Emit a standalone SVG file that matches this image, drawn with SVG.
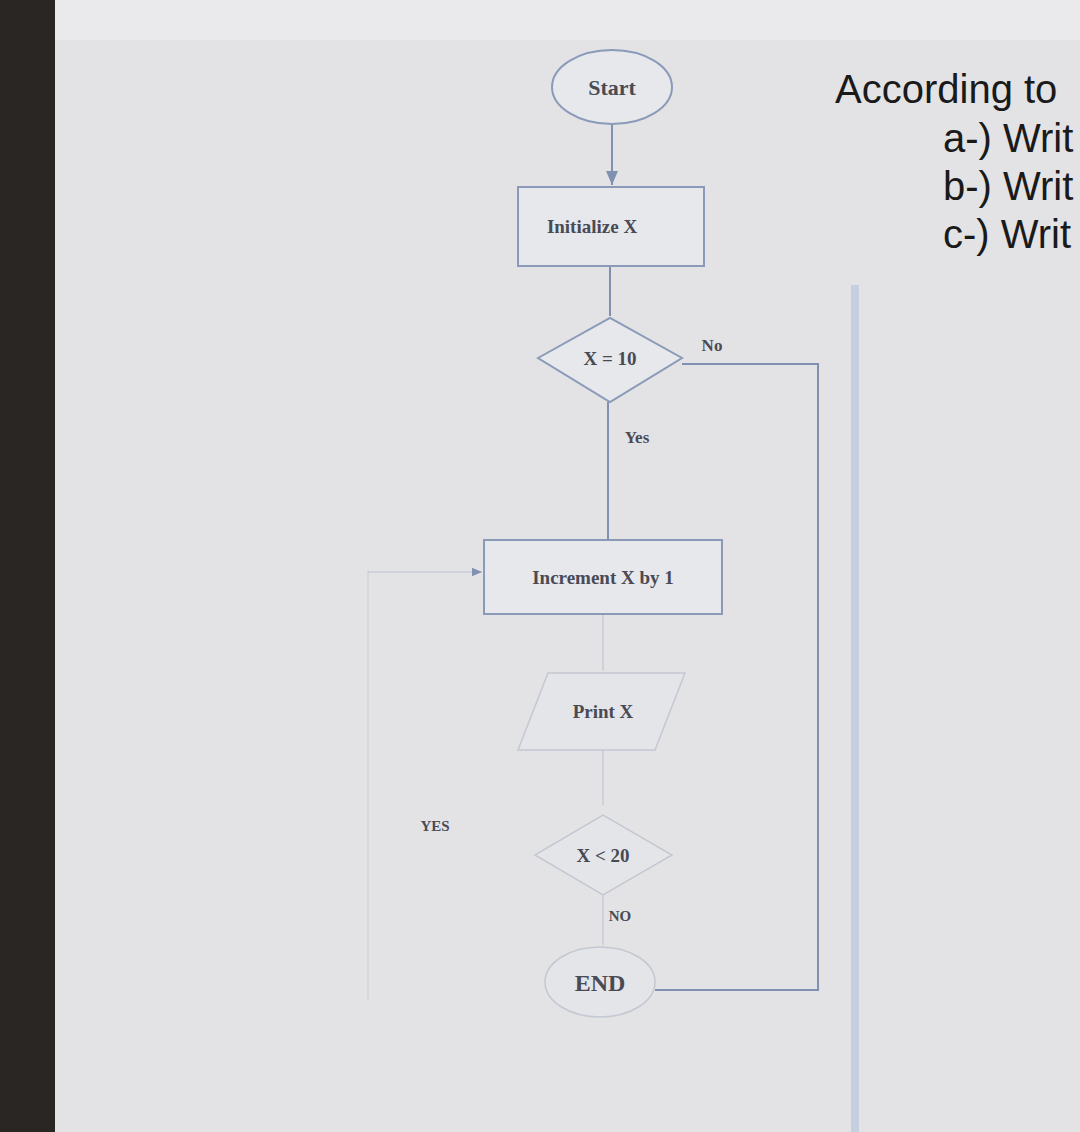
<svg xmlns="http://www.w3.org/2000/svg" width="1080" height="1132" viewBox="0 0 1080 1132">
<style>
.n{fill:#e6e8ec;stroke:#8a9ab8;stroke-width:2}
.f{fill:#e4e5e8;stroke:#c4c8d2;stroke-width:1.5}
.t{font-family:"Liberation Serif",serif;font-weight:bold;fill:#4a4a55;text-anchor:middle}
.c{fill:none;stroke:#8090b0;stroke-width:2}
.cf{fill:none;stroke:#c8ccd6;stroke-width:1.5}
.q{font-family:"Liberation Sans",Arial,sans-serif;font-size:40px;fill:#1a1a1a}
</style>
<defs><marker id="a" markerWidth="8" markerHeight="8" refX="7" refY="4" orient="auto"><path d="M0,1 L7,4 L0,7" fill="#8090b0"/></marker></defs>
<rect width="1080" height="1132" fill="#e3e3e5"/>
<rect x="0" y="0" width="55" height="1132" fill="#2a2624"/>
<rect x="55" y="0" width="1025" height="40" fill="#eaeaec"/>
<line x1="855" y1="285" x2="855" y2="1132" stroke="#c6cfe0" stroke-width="8"/>
<line x1="368" y1="570" x2="368" y2="1000" stroke="#d2d5dc" stroke-width="1.5"/>
<g id="connectors">
<path class="c" d="M612,124 V185" marker-end="url(#a)"/>
<path class="c" d="M610,266 V316"/>
<path class="c" d="M682,364 H818 V990 H655"/>
<path class="c" d="M608,402 V540"/>
<path class="cf" d="M368,572 H482" marker-end="url(#a)"/>
<path class="cf" d="M603,614 V671"/>
<path class="cf" d="M603,750 V805"/>
<path class="cf" d="M603,895 V945"/>
</g>
<g id="start"><ellipse class="n" cx="612" cy="87" rx="60" ry="37"/><text class="t" x="612" y="95" font-size="22">Start</text></g>
<g id="init"><rect class="n" x="518" y="187" width="186" height="79"/><text class="t" x="592" y="233" font-size="19">Initialize X</text></g>
<g id="d1"><polygon class="n" points="538,358 610,318 682,358 610,402"/><text class="t" x="610" y="365" font-size="19">X = 10</text></g>
<text class="t" x="712" y="351" font-size="17">No</text>
<text class="t" x="637" y="443" font-size="17">Yes</text>
<g id="inc"><rect class="n" x="484" y="540" width="238" height="74"/><text class="t" x="603" y="584" font-size="19">Increment X by 1</text></g>
<g id="print"><polygon class="f" points="548,673 685,673 655,750 518,750"/><text class="t" x="603" y="718" font-size="19">Print X</text></g>
<text class="t" x="435" y="831" font-size="15">YES</text>
<g id="d2"><polygon class="f" points="535,855 603,815 672,855 603,895"/><text class="t" x="603" y="862" font-size="19" font-weight="normal">X &lt; 20</text></g>
<text class="t" x="620" y="921" font-size="15">NO</text>
<g id="end"><ellipse class="f" cx="600" cy="982" rx="55" ry="35"/><text class="t" x="600" y="991" font-size="24" font-weight="normal">END</text></g>
<text class="q" x="835" y="103">According to</text>
<text class="q" x="943" y="152">a-) Writ</text>
<text class="q" x="943" y="200">b-) Writ</text>
<text class="q" x="943" y="248">c-) Writ</text>
</svg>
